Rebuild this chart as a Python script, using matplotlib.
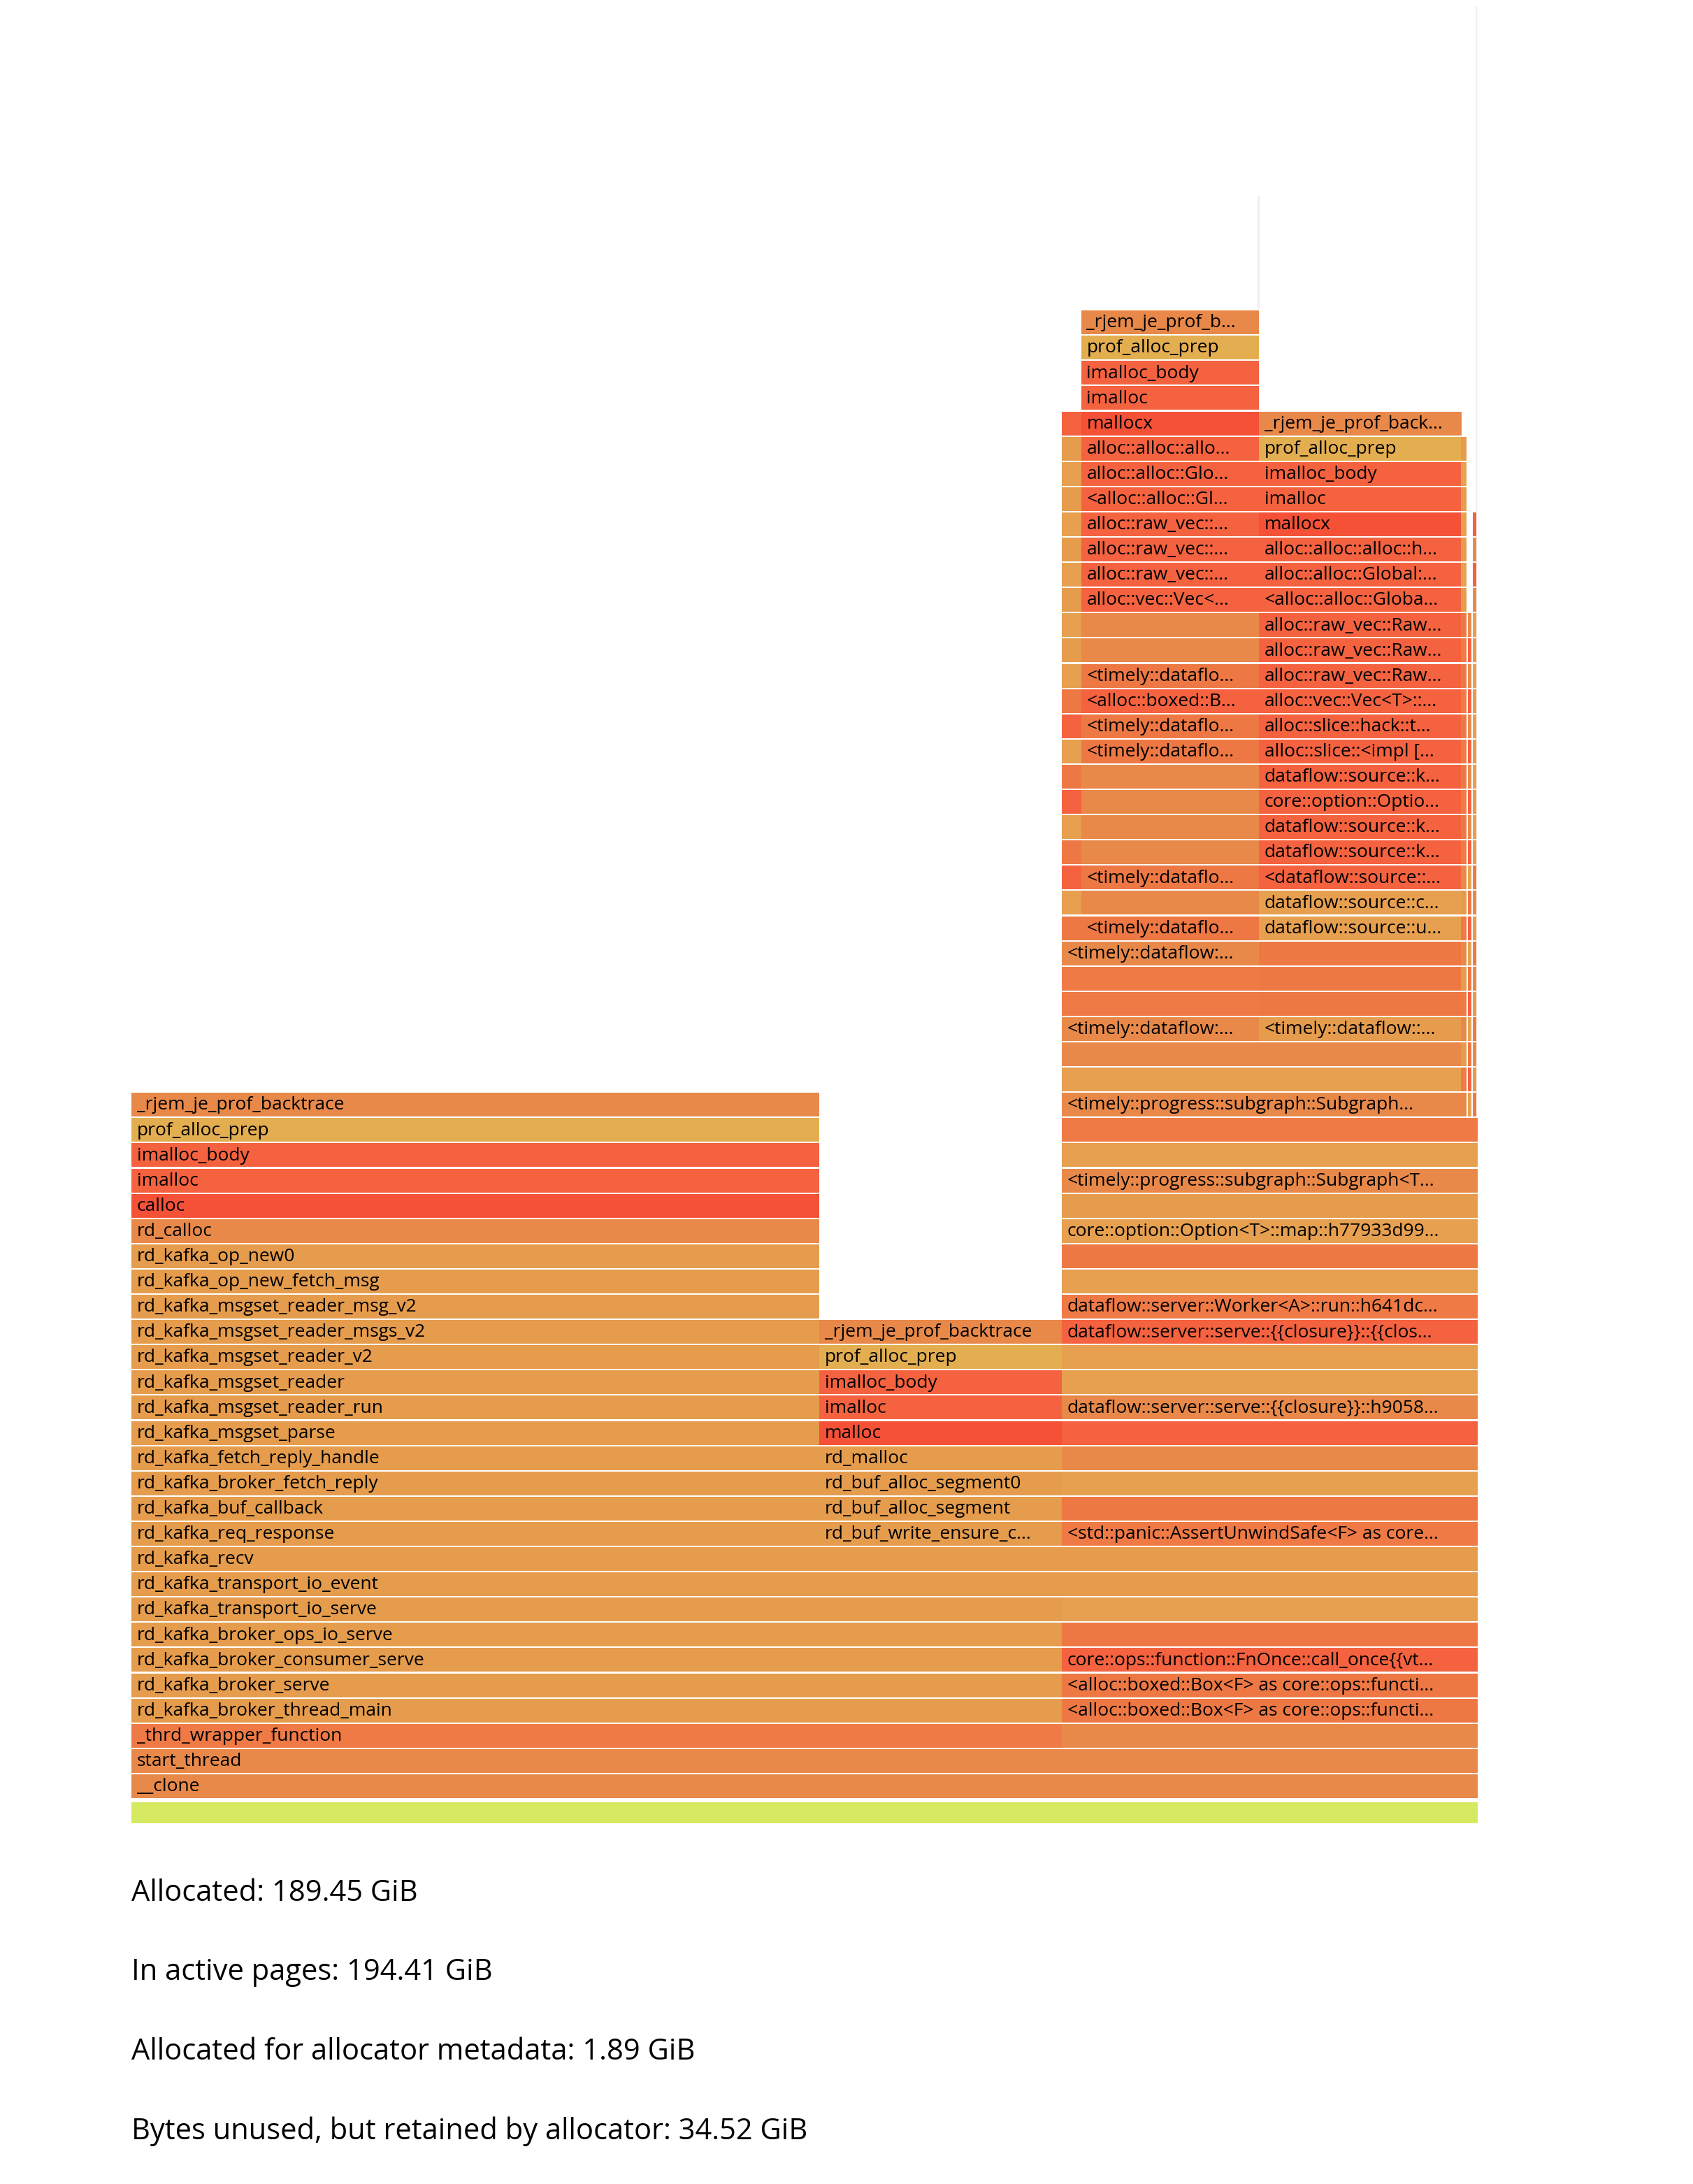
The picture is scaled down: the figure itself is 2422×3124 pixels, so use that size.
import matplotlib
matplotlib.use("Agg")
import matplotlib.pyplot as plt
from matplotlib.patches import Rectangle

plt.rcParams["font.family"] = ["Open Sans", "DejaVu Sans"]

# 全体に対する割合 (合計 = 1.0)
total_alloc = 189.45  # GiB

# 各スタック: 開始段, 開始位置(割合), 幅(割合), 関数名リスト(下から上)
base_names = ["", "__clone", "start_thread"]
base_share = 1.0

kafka_common = ["_thrd_wrapper_function", "rd_kafka_broker_thread_main", "rd_kafka_broker_serve",
                "rd_kafka_broker_consumer_serve", "rd_kafka_broker_ops_io_serve",
                "rd_kafka_transport_io_serve", "rd_kafka_transport_io_event", "rd_kafka_recv"]
kafka_common_share = 0.691

kafka_fetch = ["rd_kafka_req_response", "rd_kafka_buf_callback", "rd_kafka_broker_fetch_reply",
               "rd_kafka_fetch_reply_handle", "rd_kafka_msgset_parse", "rd_kafka_msgset_reader_run",
               "rd_kafka_msgset_reader", "rd_kafka_msgset_reader_v2", "rd_kafka_msgset_reader_msgs_v2",
               "rd_kafka_msgset_reader_msg_v2", "rd_kafka_op_new_fetch_msg", "rd_kafka_op_new0",
               "rd_calloc", "calloc", "imalloc", "imalloc_body", "prof_alloc_prep",
               "_rjem_je_prof_backtrace"]
kafka_fetch_share = 0.511

kafka_buf = ["rd_buf_write_ensure_c...", "rd_buf_alloc_segment", "rd_buf_alloc_segment0", "rd_malloc",
             "malloc", "imalloc", "imalloc_body", "prof_alloc_prep", "_rjem_je_prof_backtrace"]
kafka_buf_share = 0.180

rust_common = ["std::sys::unix::thread::Thread::new::threa...",
               "<alloc::boxed::Box<F> as core::ops::functi...",
               "<alloc::boxed::Box<F> as core::ops::functi...",
               "core::ops::function::FnOnce::call_once{{vt...",
               "std::thread::Builder::spawn_unchecked::{{...",
               "std::panic::catch_unwind::h9b288e90155cf...",
               "std::panicking::try::h47e891b4d193e8cf",
               "std::panicking::try::do_call::h56f4170b42c...",
               "<std::panic::AssertUnwindSafe<F> as core...",
               "std::thread::Builder::spawn_unchecked::{{...",
               "std::sys_common::backtrace::__rust_begin...",
               "timely_communication::initialize::initialize...",
               "timely::execute::execute_from::{{closure}}...",
               "dataflow::server::serve::{{closure}}::h9058...",
               "tokio::runtime::handle::Handle::enter::h4...",
               "tokio::runtime::context::enter::he88c00aa...",
               "dataflow::server::serve::{{closure}}::{{clos...",
               "dataflow::server::Worker<A>::run::h641dc...",
               "timely::worker::Worker<A>::step_or_park::...",
               "timely::worker::Wrapper::step::hf18d35a7...",
               "core::option::Option<T>::map::h77933d99...",
               "timely::worker::Wrapper::step::{{closure}}...",
               "<timely::progress::subgraph::Subgraph<T...",
               "timely::progress::subgraph::Subgraph<T...",
               "timely::progress::subgraph::PerOperatorS..."]
rust_common_share = 0.309

subgraph_inner = ["<timely::progress::subgraph::Subgraph...",
                  "timely::progress::subgraph::Subgraph<...",
                  "timely::progress::subgraph::PerOperato..."]
subgraph_inner_share = 0.2965

op_left_base = ["<timely::dataflow:...", "timely::dataflow:...", "timely::dataflow:...",
                "<timely::dataflow:..."]
op_left_base_share = 0.1464

op_left = ["<timely::dataflo...", "timely::dataflow...", "<timely::dataflo...", "timely::dataflow...",
           "timely::dataflow...", "timely::dataflow...", "timely::dataflow...", "<timely::dataflo...",
           "<timely::dataflo...", "<alloc::boxed::B...", "<timely::dataflo...", "timely::dataflow...",
           "timely::dataflow...", "alloc::vec::Vec<...", "alloc::raw_vec::...", "alloc::raw_vec::...",
           "alloc::raw_vec::...", "<alloc::alloc::Gl...", "alloc::alloc::Glo...", "alloc::alloc::allo...",
           "mallocx", "imalloc", "imalloc_body", "prof_alloc_prep", "_rjem_je_prof_b..."]
op_left_share = 0.1319

op_sliver = ["s%d" % i for i in range(21)]
op_sliver_share = 0.0145

op_right = ["<timely::dataflow::...", "timely::dataflow::o...", "timely::dataflow::o...",
            "timely::dataflow::o...", "dataflow::source::u...", "dataflow::source::c...",
            "<dataflow::source::...", "dataflow::source::k...", "dataflow::source::k...",
            "core::option::Optio...", "dataflow::source::k...", "alloc::slice::<impl [...",
            "alloc::slice::hack::t...", "alloc::vec::Vec<T>::...", "alloc::raw_vec::Raw...",
            "alloc::raw_vec::Raw...", "alloc::raw_vec::Raw...", "<alloc::alloc::Globa...",
            "alloc::alloc::Global:...", "alloc::alloc::alloc::h...", "mallocx", "imalloc",
            "imalloc_body", "prof_alloc_prep", "_rjem_je_prof_back..."]
op_right_share = 0.1506

stats = ["Allocated: 189.45 GiB", "In active pages: 194.41 GiB",
         "Allocated for allocator metadata: 1.89 GiB", "Bytes unused, but retained by allocator: 34.52 GiB"]

# (段, 開始, 幅, 名前)
x_kafka = 0.0
x_buf = kafka_fetch_share
x_rust = kafka_common_share
x_op_r = x_rust + op_left_base_share
stacks = [
    (0, 0.0, base_share, base_names),
    (3, x_kafka, kafka_common_share, kafka_common),
    (11, x_kafka, kafka_fetch_share, kafka_fetch),
    (11, x_buf, kafka_buf_share, kafka_buf),
    (3, x_rust, rust_common_share, rust_common),
    (28, x_rust, subgraph_inner_share, subgraph_inner),
    (31, x_rust, op_left_base_share, op_left_base),
    (35, x_rust + op_sliver_share, op_left_share, op_left),
    (35, x_rust, op_sliver_share, op_sliver),
    (31, x_op_r, op_right_share, op_right),
    (28, 0.9875, 0.004, ["t%d" % i for i in range(27)]),
    (28, 0.9925, 0.003, ["u%d" % i for i in range(20)]),
    (28, 0.9965, 0.0025, ["v%d" % i for i in range(24)]),
]

palette = ["#E59C4C", "#EE7843", "#E8894A", "#E6A050", "#EF7A45", "#F4623F"]


def frame_color(name):
    if name == "":
        return "#D5EA60"
    if "prof_alloc_prep" in name:
        return "#E3AE50"
    if name in ("imalloc", "imalloc_body"):
        return "#F4623F"
    if name in ("malloc", "calloc", "mallocx"):
        return "#F45137"
    if name.startswith("_rjem") or name in ("__clone", "start_thread", "rd_calloc"):
        return "#E8894A"
    if name.startswith("alloc::") or name.startswith("<alloc::alloc"):
        return "#F4623F"
    if name.startswith("rd_"):
        return "#E59C4C"
    return palette[sum(ord(c) * (i + 1) for i, c in enumerate(name)) % len(palette)]


W, H, DPI = 2422, 3124, 200
fig = plt.figure(figsize=(W / DPI, H / DPI), dpi=DPI)
x0_px, x1_px, base_px, pitch = 188, 2114, 2608, 36.1
ax = fig.add_axes([x0_px / W, 0, (x1_px - x0_px) / W, 1.0])
ax.set_xlim(0, 1)
ax.set_ylim(-(H - base_px) / pitch, base_px / pitch)
ax.axis("off")

# 細い上方への線
ax.add_patch(Rectangle((0.9985, 28), 0.0012, 44, color="#EEEEEE", lw=0))
ax.add_patch(Rectangle((x_op_r - 0.0008, 60), 0.0012, 4.5, color="#EEEEEE", lw=0))

for start_row, xs, w, names in stacks:
    for i, name in enumerate(names):
        row = start_row + i
        h = 0.82 if row == 0 else 0.94
        ax.add_patch(Rectangle((xs, row), w, h, facecolor=frame_color(name), edgecolor="none"))
        if name and w > 0.05 and not name.startswith(("s", "t", "u", "v")) or name in ("start_thread",):
            ax.text(xs + 0.004, row + 0.45, name, fontsize=9.5, va="center", ha="left", color="black")

for k, line in enumerate(stats):
    y_px = 2708 + k * 113.5
    fig.text(x0_px / W, 1 - y_px / H, line, fontsize=15, va="center", ha="left")

fig.savefig("out.png", dpi=DPI, facecolor="white")
